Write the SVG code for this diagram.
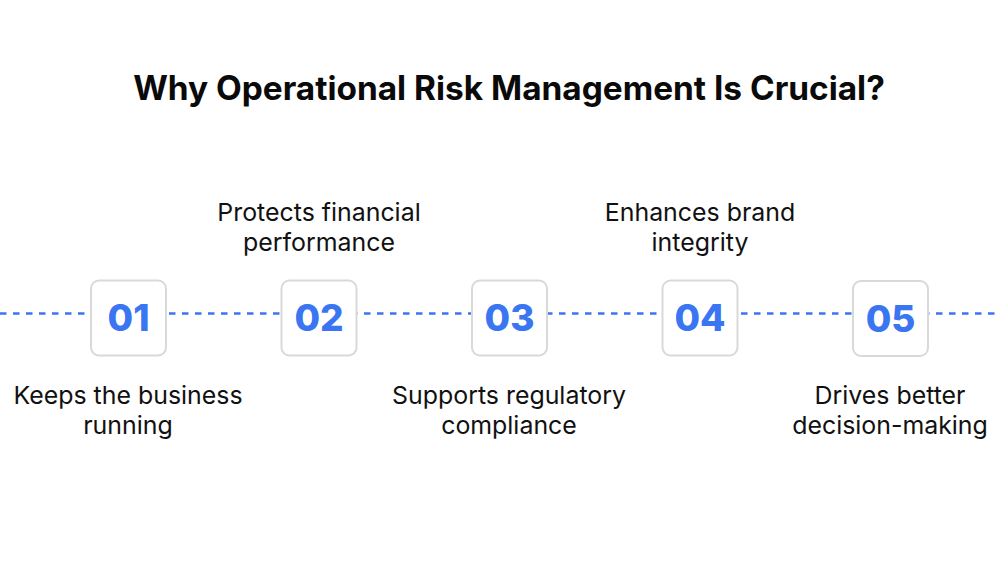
<svg xmlns="http://www.w3.org/2000/svg" width="1000" height="563" viewBox="0 0 1000 563">
<style>
.title{font-family:Inter,"Liberation Sans",sans-serif;font-weight:700;font-size:33.4px;fill:#0a0a0a;text-anchor:middle}
.lbl{font-family:Inter,"Liberation Sans",sans-serif;font-size:24.9px;fill:#111;text-anchor:middle}
.num{font-family:Inter,"Liberation Sans",sans-serif;font-weight:800;font-size:37px;fill:#3a76f2;text-anchor:middle}
.box{fill:#fff;stroke:#d9d9d9;stroke-width:2}
.dash{stroke:#3a76f2;stroke-width:2.4;stroke-dasharray:6.5 6.5;fill:none}
</style>
<rect width="1000" height="563" fill="#fff"/>
<text class="title" x="509" y="100">Why Operational Risk Management Is Crucial?</text>
<g id="connectors">
<line class="dash" x1="0" y1="313.5" x2="1000" y2="313.5"/>
</g>
<g id="node1">
<rect class="box" x="91" y="280.5" width="75" height="75" rx="8"/>
<text class="num" x="128.5" y="331">01</text>
<text class="lbl" x="128" y="404">Keeps the business</text>
<text class="lbl" x="128" y="434">running</text>
</g>
<g id="node2">
<rect class="box" x="281.5" y="280.5" width="75" height="75" rx="8"/>
<text class="num" x="319" y="331">02</text>
<text class="lbl" x="319" y="221">Protects financial</text>
<text class="lbl" x="319" y="251">performance</text>
</g>
<g id="node3">
<rect class="box" x="472" y="280.5" width="75" height="75" rx="8"/>
<text class="num" x="509.5" y="331">03</text>
<text class="lbl" x="509" y="404">Supports regulatory</text>
<text class="lbl" x="509" y="434">compliance</text>
</g>
<g id="node4">
<rect class="box" x="662.5" y="280.5" width="75" height="75" rx="8"/>
<text class="num" x="700" y="331">04</text>
<text class="lbl" x="700" y="221">Enhances brand</text>
<text class="lbl" x="700" y="251">integrity</text>
</g>
<g id="node5">
<rect class="box" x="853" y="281" width="75" height="75" rx="8"/>
<text class="num" x="890.5" y="331.5">05</text>
<text class="lbl" x="890" y="404">Drives better</text>
<text class="lbl" x="890" y="434">decision-making</text>
</g>
</svg>
